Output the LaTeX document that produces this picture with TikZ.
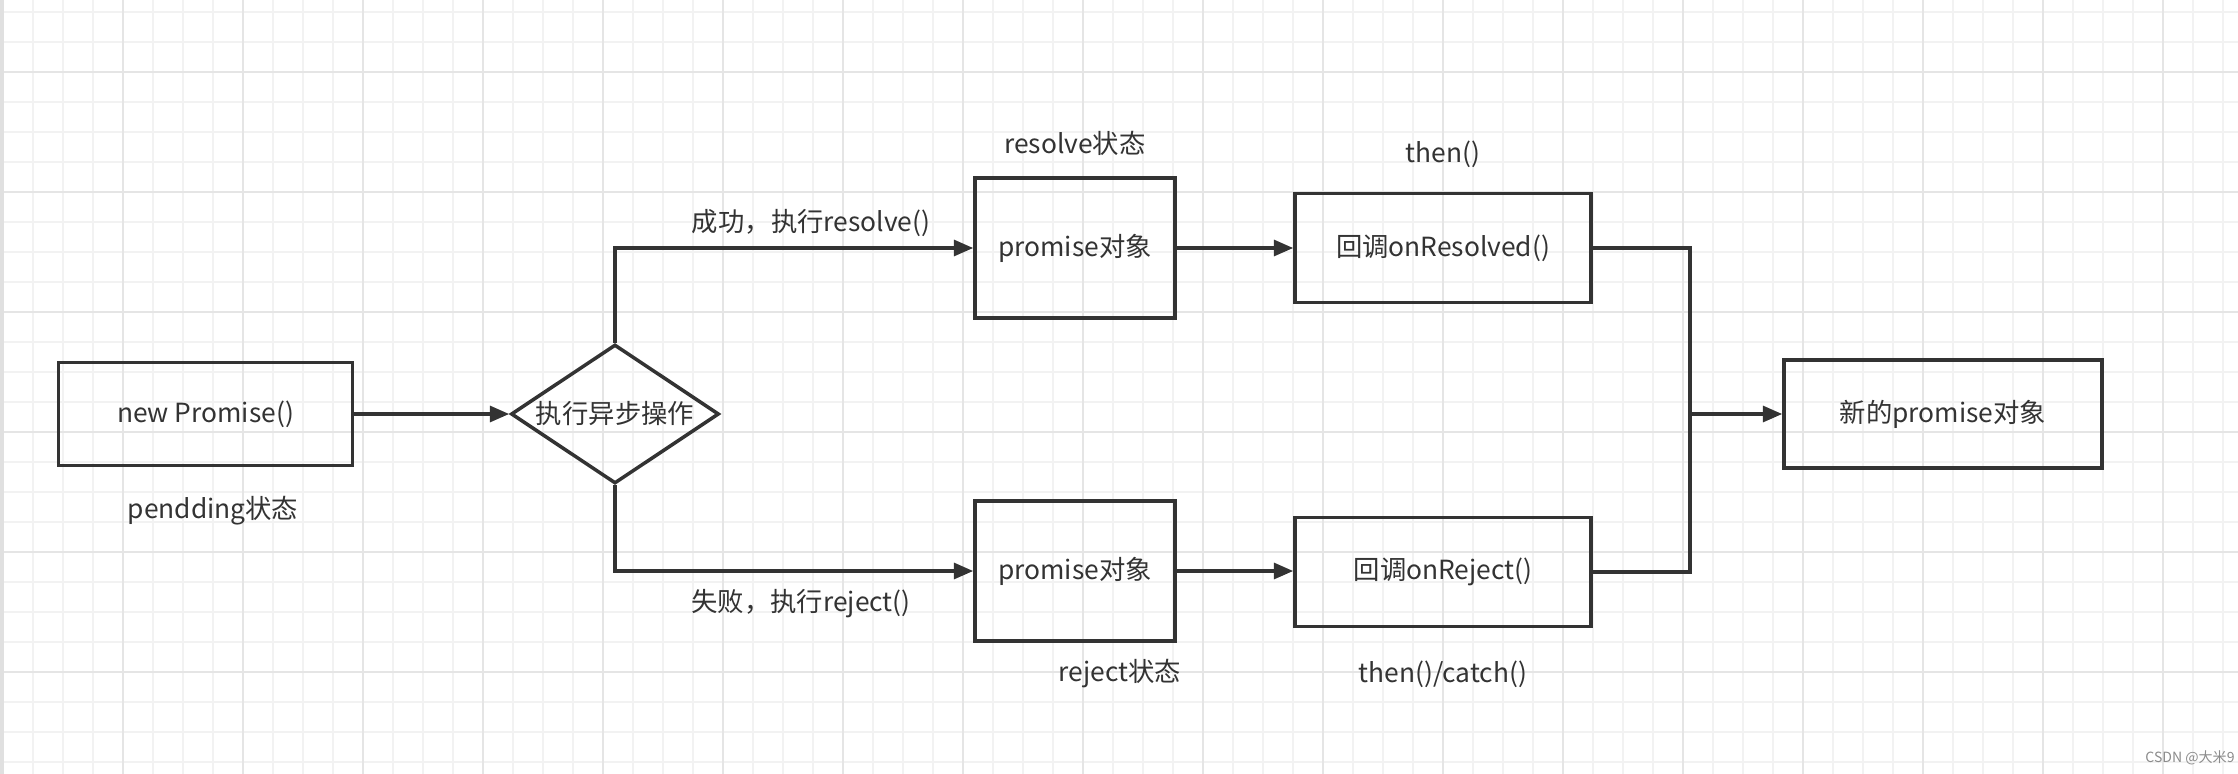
\documentclass[tikz,border=0pt]{standalone}
\usepackage{fontspec}
\setmainfont{Noto Sans CJK SC}
\usetikzlibrary{shapes.geometric,arrows.meta}
\definecolor{ln}{HTML}{333333}
\begin{document}
\begin{tikzpicture}[x=0.02cm,y=-0.02cm,
  box/.style={draw=ln,line width=2pt,minimum width=#1,inner sep=0pt,font=\fontsize{15}{18}\selectfont,text=ln},
  lab/.style={font=\fontsize{15}{18}\selectfont,text=ln},
  con/.style={draw=ln,line width=2pt},
  arr/.style={con,-{Triangle[length=11pt,width=9pt]}}]
\useasboundingbox (0,0) rectangle (2238,774);
\fill[white] (0,0) rectangle (2238,774);
\foreach \x in {3,33,...,2238} \draw[color=black!5,line width=1.2pt] (\x,0) -- (\x,774);
\foreach \y in {12,42,...,774} \draw[color=black!5,line width=1.2pt] (0,\y) -- (2238,\y);
\foreach \x in {123,243,...,2238} \draw[color=black!10,line width=1.2pt] (\x,0) -- (\x,774);
\foreach \y in {72,192,...,774} \draw[color=black!10,line width=1.2pt] (0,\y) -- (2238,\y);
\fill[black!12] (0,0) rectangle (4,774);
\node[box=294*0.02cm,minimum height=103*0.02cm] (np) at (205.5,414) {new Promise()};
\node[box=208*0.02cm,minimum height=139*0.02cm,diamond,aspect=1.5] (d) at (615,414) {执行异步操作};
\node[box=200*0.02cm,minimum height=140*0.02cm] (p1) at (1075,248) {promise对象};
\node[box=200*0.02cm,minimum height=140*0.02cm] (p2) at (1075,571) {promise对象};
\node[box=296*0.02cm,minimum height=109*0.02cm] (r1) at (1443,248) {回调onResolved()};
\node[box=296*0.02cm,minimum height=109*0.02cm] (r2) at (1443,572) {回调onReject()};
\node[box=318*0.02cm,minimum height=108*0.02cm] (n) at (1943,414) {新的promise对象};
\coordinate (m) at (1690,414);
\draw[arr] (np) -- (d);
\draw[arr] (d.north) |- (p1);
\draw[arr] (d.south) |- (p2);
\draw[arr] (p1) -- (r1);
\draw[arr] (p2) -- (r2.west|-p2);
\draw[con] (r1.east) -| (m);
\draw[con] (r2.east) -| (m);
\draw[arr] (m) -- (n);
\node[lab] (l1) at (1075,143) {resolve状态};
\node[lab] (l2) at (1443,154) {then()};
\node[lab] (l3) at (811,223) {成功，执行resolve()};
\node[lab] (l4) at (801,604) {失败，执行reject()};
\node[lab] (l5) at (1120,674) {reject状态};
\node[lab] (l6) at (1443,674) {then()/catch()};
\node[lab] (l7) at (213,511) {pendding状态};
\node[font=\fontsize{8}{10}\selectfont,text=black!45] (w) at (2190,758) {CSDN @大米9};
\end{tikzpicture}
\end{document}
